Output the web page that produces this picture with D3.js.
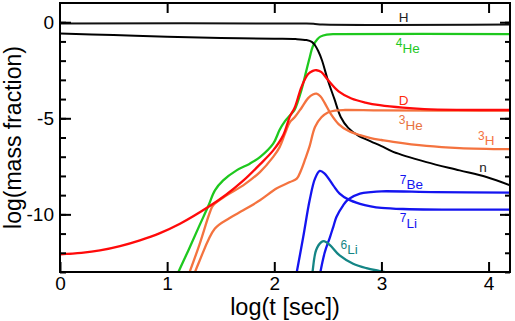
<!DOCTYPE html>
<html>
<head>
<meta charset="utf-8">
<script src="https://cdn.jsdelivr.net/npm/d3@7"></script>
<style>
  html, body { margin: 0; padding: 0; background: #fff; }
  svg { display: block; font-family: "Liberation Sans", Arial, Helvetica, sans-serif; }
</style>
</head>
<body>
<svg id="chart" width="515" height="321"></svg>
<script>
// ---- data (log t [sec], log mass fraction) ----
const xTicks = [0, 1, 2, 3, 4];
const yMajorTicks = [0, -5, -10];
const yMinorTicks = [0, -1, -2, -3, -4, -5, -6, -7, -8, -9, -10, -11, -12, -13];

const seriesH = [[0,-0.07],[2.3,-0.07],[2.38,-0.09],[2.45,-0.12],[4.2,-0.12]];
const seriesN = [[0,-0.59],[0.5,-0.67],[1.0,-0.76],[1.5,-0.82],[2.0,-0.86],[2.2,-0.88],[2.3,-0.93],
  [2.35,-1.02],[2.38,-1.2],[2.41,-1.5],[2.445,-1.98],[2.5,-3.02],[2.56,-3.98],[2.62,-4.93],
  [2.69,-5.5],[2.78,-5.89],[2.9,-6.2],[3.0,-6.45],[3.11,-6.75],[3.42,-7.28],[3.73,-7.71],
  [3.98,-8.06],[4.2,-8.49]];
const seriesHe4 = [[1.08,-13.3],[1.2,-11.85],[1.3,-10.6],[1.383,-9.58],[1.446,-8.75],[1.523,-8.23],
  [1.648,-7.71],[1.772,-7.36],[1.866,-7.02],[1.99,-6.32],[2.05,-5.6],[2.1,-5.15],[2.146,-4.85],
  [2.19,-4.55],[2.255,-3.5],[2.3,-2.5],[2.33,-1.85],[2.36,-1.25],[2.4,-0.9],[2.43,-0.75],
  [2.49,-0.64],[2.6,-0.62],[4.2,-0.62]];
const seriesD = [[0,-12.08],[0.2,-12.0],[0.373,-11.875],[0.56,-11.65],[0.746,-11.35],[0.933,-10.976],
  [1.12,-10.49],[1.383,-9.62],[1.55,-8.98],[1.71,-8.25],[1.866,-7.4],[1.99,-6.67],[2.083,-5.89],
  [2.146,-4.9],[2.19,-4.45],[2.255,-3.35],[2.316,-2.7],[2.36,-2.53],[2.395,-2.5],[2.44,-2.6],
  [2.5,-3.0],[2.6,-3.6],[2.72,-3.97],[2.85,-4.18],[2.985,-4.32],[3.2,-4.45],[3.4,-4.52],
  [3.7,-4.56],[4.2,-4.57]];
const seriesH3 = [[1.19,-13.3],[1.3,-11.6],[1.4,-9.88],[1.43,-9.53],[1.555,-9.01],[1.71,-8.49],
  [1.866,-7.8],[1.99,-7.01],[2.05,-6.5],[2.1,-5.8],[2.146,-5.2],[2.19,-4.95],[2.255,-4.45],
  [2.316,-3.95],[2.36,-3.76],[2.395,-3.72],[2.43,-3.85],[2.47,-4.2],[2.535,-4.84],[2.6,-5.3],
  [2.69,-5.65],[2.8,-5.88],[2.9,-6.03],[3.0,-6.13],[3.11,-6.23],[3.42,-6.44],[3.73,-6.55],[4.2,-6.61]];
const seriesHe3 = [[1.24,-13.3],[1.3,-12.45],[1.446,-10.74],[1.58,-10.2],[1.71,-9.79],[1.866,-9.27],
  [2.02,-8.66],[2.146,-8.32],[2.21,-8.14],[2.25,-7.7],[2.29,-7.1],[2.33,-6.45],[2.38,-5.45],
  [2.44,-4.95],[2.5,-4.7],[2.565,-4.6],[2.66,-4.57],[3.0,-4.59],[4.2,-4.6]];
const seriesLi7 = [[2.2,-13.3],[2.27,-11.18],[2.33,-9.27],[2.38,-8.14],[2.425,-7.74],[2.47,-7.88],
  [2.55,-8.49],[2.61,-8.92],[2.69,-9.22],[2.8,-9.45],[2.9,-9.58],[3.0,-9.66],[3.2,-9.72],
  [3.6,-9.75],[4.2,-9.75]];
const seriesBe7 = [[2.42,-13.3],[2.47,-12.0],[2.52,-11.18],[2.55,-10.66],[2.58,-10.14],[2.643,-9.53],
  [2.69,-9.22],[2.8,-8.92],[2.9,-8.84],[3.0,-8.8],[3.5,-8.84],[4.2,-8.87]];
const seriesLi6 = [[2.35,-13.3],[2.357,-13.0],[2.39,-11.87],[2.44,-11.44],[2.47,-11.4],[2.52,-11.6],
  [2.61,-12.14],[2.736,-12.57],[2.86,-12.8],[2.985,-12.95],[3.08,-13.06],[3.1,-13.1]];

// curve labels: superscript, name, anchor (log t, log X)
const labelSup  = ["",  "4",   "",  "3",   "3",  "",  "7",   "7",   "6"];
const labelName = ["H", "He",  "D", "He",  "H",  "n", "Be",  "Li",  "Li"];
const labelT    = [3.162, 3.134, 3.162, 3.162, 3.902, 3.913, 3.172, 3.172, 2.618];
const labelV    = [0.0, -1.58, -4.32, -5.59, -6.41, -7.79, -8.70, -10.69, -12.08];
const labelKey  = ["H", "He4", "D", "He3", "H3", "n", "Be7", "Li7", "Li6"];

// ---- styles ----
const colors = {
  H: "#111111", n: "#000000", He4: "#1ec81e", D: "#ff0a0a",
  H3: "#f4733f", He3: "#f4733f", Li7: "#1414f0", Be7: "#1414f0", Li6: "#148585"
};
const labelColors = {
  H: "#222222", n: "#222222", He4: "#1ec81e", D: "#ff2a0a",
  H3: "#f4733f", He3: "#e8733f", Li7: "#1414f0", Be7: "#1414f0", Li6: "#148585"
};

const svg = d3.select("#chart");
const L = 60, R = 510, T = 3, B = 272;
const x = d3.scaleLinear().domain([0, 4.2]).range([L, R]);
const y = d3.scaleLinear().domain([-13, 1]).range([B, T]);

svg.append("defs").append("clipPath").attr("id", "clip")
  .append("rect").attr("x", L).attr("y", T).attr("width", R - L).attr("height", B - T);

const line = d3.line().x(d => x(d[0])).y(d => y(d[1])).curve(d3.curveCatmullRom.alpha(0.5));

const drawOrder = [
  ["H", seriesH], ["He4", seriesHe4], ["n", seriesN], ["H3", seriesH3], ["He3", seriesHe3],
  ["D", seriesD], ["Li7", seriesLi7], ["Be7", seriesBe7], ["Li6", seriesLi6]
];
const gLines = svg.append("g").attr("clip-path", "url(#clip)");
drawOrder.forEach(([key, data]) => {
  gLines.append("path").datum(data)
    .attr("d", line)
    .attr("fill", "none")
    .attr("stroke", colors[key])
    .attr("stroke-width", key === "H" || key === "n" ? 2 : 2.3)
    .attr("stroke-linejoin", "round")
    .attr("stroke-linecap", "round");
});

// ---- axes ----
function styleAxis(g, showText) {
  g.select(".domain").remove();
  g.selectAll(".tick line").attr("stroke", "#000").attr("stroke-width", 2);
  if (!showText) g.selectAll(".tick text").remove();
  else g.selectAll(".tick text").attr("font-size", 19).attr("fill", "#000")
    .attr("font-family", "Liberation Sans, Arial, sans-serif");
}

svg.append("g").attr("transform", `translate(0,${B})`)
  .call(d3.axisBottom(x).tickValues(xTicks).tickSize(-10).tickPadding(5).tickFormat(d3.format("d")))
  .call(g => styleAxis(g, true));
svg.append("g").attr("transform", `translate(0,${T})`)
  .call(d3.axisTop(x).tickValues(xTicks.filter(v => v > 0)).tickSize(-10))
  .call(g => styleAxis(g, false));

svg.append("g").attr("transform", `translate(${L},0)`)
  .call(d3.axisLeft(y).tickValues(yMinorTicks).tickSize(-6).tickFormat(""))
  .call(g => styleAxis(g, false));
svg.append("g").attr("transform", `translate(${L},0)`)
  .call(d3.axisLeft(y).tickValues(yMajorTicks).tickSize(-11).tickPadding(6).tickFormat(d => d === 0 ? "0" : "-" + Math.abs(d)))
  .call(g => styleAxis(g, true));
svg.append("g").attr("transform", `translate(${R},0)`)
  .call(d3.axisRight(y).tickValues(yMinorTicks).tickSize(-5).tickFormat(""))
  .call(g => styleAxis(g, false));
svg.append("g").attr("transform", `translate(${R},0)`)
  .call(d3.axisRight(y).tickValues(yMajorTicks).tickSize(-10).tickFormat(""))
  .call(g => styleAxis(g, false));

// frame
svg.append("rect").attr("x", L).attr("y", T).attr("width", R - L).attr("height", B - T)
  .attr("fill", "none").attr("stroke", "#000").attr("stroke-width", 2);

// titles
svg.append("text").attr("x", (L + R) / 2).attr("y", 315).attr("text-anchor", "middle")
  .attr("font-size", 23.5).attr("fill", "#000").text("log(t [sec])");
svg.append("text").attr("transform", `translate(21,${(T + B) / 2}) rotate(-90)`)
  .attr("text-anchor", "middle").attr("font-size", 23).attr("fill", "#000")
  .text("log(mass fraction)");

// curve labels
labelName.forEach((name, i) => {
  const t = svg.append("text").attr("x", x(labelT[i])).attr("y", y(labelV[i]))
    .attr("fill", labelColors[labelKey[i]]);
  if (labelSup[i]) {
    t.append("tspan").attr("font-size", 12).attr("dy", -5.5).text(labelSup[i]);
    t.append("tspan").attr("font-size", 13.5).attr("dy", 5.5).text(name);
  } else {
    t.append("tspan").attr("font-size", 13.5).text(name);
  }
});
</script>
</body>
</html>
